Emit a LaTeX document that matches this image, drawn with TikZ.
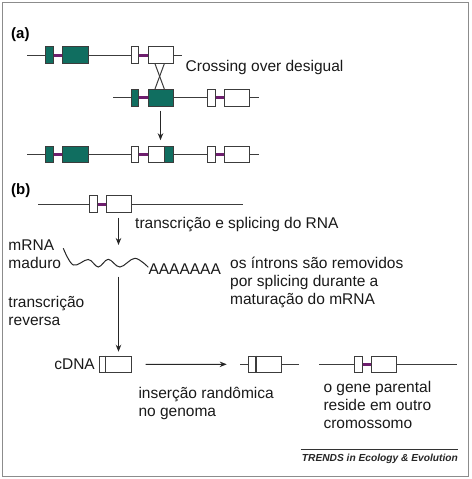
\documentclass[tikz,border=0pt]{standalone}
\usepackage{fontspec}
\setmainfont{Liberation Sans}
\usetikzlibrary{arrows.meta,calc}
\definecolor{teal}{RGB}{16,110,96}
\definecolor{purp}{RGB}{110,30,110}
\definecolor{outl}{RGB}{60,60,60}
\definecolor{frame}{RGB}{140,140,140}
\tikzset{
  wbox/.style={draw=outl,fill=white,line width=1pt,inner sep=0pt,minimum height=16.6pt,rectangle},
  tbox/.style={wbox,fill=teal},
  link/.style={draw=purp,line width=3pt},
  dna/.style={draw=outl,line width=1pt},
  arr/.style={draw=black!85,line width=1pt,-{Stealth[length=7pt,width=5.5pt]}},
  txt/.style={inner sep=0pt,font=\fontsize{15.5}{18}\selectfont,text=black!90,align=left},
  lbl/.style={inner sep=0pt,font=\fontsize{15}{18}\selectfont\bfseries,text=black},
}
\begin{document}
\begin{tikzpicture}[x=1pt,y=-1pt]
\useasboundingbox (0,0) rectangle (471,479);
\draw[frame,line width=1pt] (2,2) rectangle (468.5,476.5);
% ---------------- (a)
\node[lbl,anchor=base west] (la) at (11,38.5) {(a)};
% row 1
\coordinate (r1a) at (27,55); \coordinate (r1b) at (182,55);
\draw[dna] (r1a) -- (r1b);
\node[tbox,minimum width=8pt] (t1) at (49,55) {};
\node[tbox,minimum width=26pt] (t2) at (75,55) {};
\node[wbox,minimum width=7pt] (w1) at (134.5,55) {};
\node[wbox,minimum width=25pt] (w2) at (160.5,55) {};
\draw[link] (t1.east) -- (t2.west);
\draw[link] (w1.east) -- (w2.west);
\node[txt,anchor=base west] (cross) at (185.5,71.5) {Crossing over desigual};
% row 2
\coordinate (r2a) at (113,97.7); \coordinate (r2b) at (258.5,97.7);
\draw[dna] (r2a) -- (r2b);
\node[tbox,minimum width=7pt] (t3) at (134.5,97.7) {};
\node[tbox,minimum width=25pt] (t4) at (160.5,97.7) {};
\node[wbox,minimum width=8pt] (w3) at (211.7,97.7) {};
\node[wbox,minimum width=25.3pt] (w4) at (237.3,97.7) {};
\draw[link] (t3.east) -- (t4.west);
\draw[link] (w3.east) -- (w4.west);
% crossing lines
\draw[dna] ([xshift=-5.5pt]w2.south) -- ([xshift=3.8pt]t4.north);
\draw[dna] ([xshift=3.8pt]w2.south) -- ([xshift=-5.5pt]t4.north);
% row 3
\coordinate (r3a) at (27,154.3); \coordinate (r3b) at (258.5,154.3);
\draw[dna] (r3a) -- (r3b);
\node[tbox,minimum width=8pt] (t5) at (49,154.3) {};
\node[tbox,minimum width=26pt] (t6) at (75,154.3) {};
\node[wbox,minimum width=7pt] (w5) at (134.5,154.3) {};
\node[wbox,minimum width=16.3pt] (w6) at (156.15,154.3) {};
\node[tbox,minimum width=8.7pt] (t7) at (168.65,154.3) {};
\node[wbox,minimum width=8pt] (w7) at (211.7,154.3) {};
\node[wbox,minimum width=25.3pt] (w8) at (237.3,154.3) {};
\draw[link] (t5.east) -- (t6.west);
\draw[link] (w5.east) -- (w6.west);
\draw[link] (w7.east) -- (w8.west);
\draw[arr,shorten <=4pt,shorten >=5.3pt] (t4.south) -- (t4.south |- w6.north);
% ---------------- (b)
\node[lbl,anchor=base west] (lb) at (11,194) {(b)};
\coordinate (g1a) at (38.3,204); \coordinate (g1b) at (242.7,204);
\draw[dna] (g1a) -- (g1b);
\node[wbox,minimum width=8.4pt] (b1) at (93.5,204) {};
\node[wbox,minimum width=25.7pt] (b2) at (118.85,204) {};
\draw[link] (b1.east) -- (b2.west);
\coordinate (a1s) at (118.5,217.7); \coordinate (a1e) at (118.5,245);
\draw[arr] (a1s) -- (a1e);
\node[txt,anchor=base west] (tsp) at (135,228.6) {transcrição e splicing do RNA};
\node[txt,anchor=base west] (mrna) at (8.3,268.3) {mRNA\\maduro};
\draw[line width=1pt,black!85] plot[smooth,tension=0.6] coordinates {(63.3,248.3) (73.3,265) (88.3,259.5) (98.3,267) (108.3,259.3) (120,267) (135,258.3) (148.3,267.3)};
\node[txt,anchor=base west] (poly) at (148.3,274.6) {AAAAAAA};
\node[txt,anchor=base west] (intr) at (230,304.6) {os íntrons são removidos\\por splicing durante a\\maturação do mRNA};
\node[txt,anchor=base west] (rt) at (8.3,325) {transcrição\\reversa};
\coordinate (a2s) at (118.5,276.7); \coordinate (a2e) at (118.5,351.7);
\draw[arr] (a2s) -- (a2e);
% cDNA
\node[wbox,minimum width=32.4pt] (c1) at (115.5,364.35) {};
\draw[dna] ([xshift=6.7pt]c1.north west) -- ([xshift=6.7pt]c1.south west);
\node[txt,anchor=base east] (cdna) at (95,369.6) {cDNA};
% inserted
\coordinate (i1a) at (240,364.3); \coordinate (i1b) at (299.3,364.3);
\draw[dna] (i1a) -- (i1b);
\node[wbox,minimum width=33.4pt] (i1) at (265,364.35) {};
\draw[outl,line width=2pt] ([xshift=8.4pt]i1.north west) -- ([xshift=8.4pt]i1.south west);
\draw[arr,shorten <=13.3pt,shorten >=13.3pt] (c1.east) -- (i1a);
\node[txt,anchor=base west] (ins) at (138.3,416) {inserção randômica\\no genoma};
% parental
\coordinate (p1a) at (319.3,364.3); \coordinate (p1b) at (457.3,364.3);
\draw[dna] (p1a) -- (p1b);
\node[wbox,minimum width=8pt] (p1) at (358.3,364.35) {};
\node[wbox,minimum width=25pt] (p2) at (384.2,364.35) {};
\draw[link] (p1.east) -- (p2.west);
\node[txt,anchor=base west] (par) at (323.3,428) {o gene parental\\reside em outro\\cromossomo};
% credit
\coordinate (ruA) at (300.7,449.3); \coordinate (ruB) at (458.3,449.3);
\draw[black!80,line width=0.8pt] (ruA) -- (ruB);
\node[inner sep=0pt,anchor=base east,font=\fontsize{10.2}{12}\selectfont\bfseries\itshape,text=black!85] (tr) at (458,461) {TRENDS in Ecology \& Evolution};
\end{tikzpicture}
\end{document}
